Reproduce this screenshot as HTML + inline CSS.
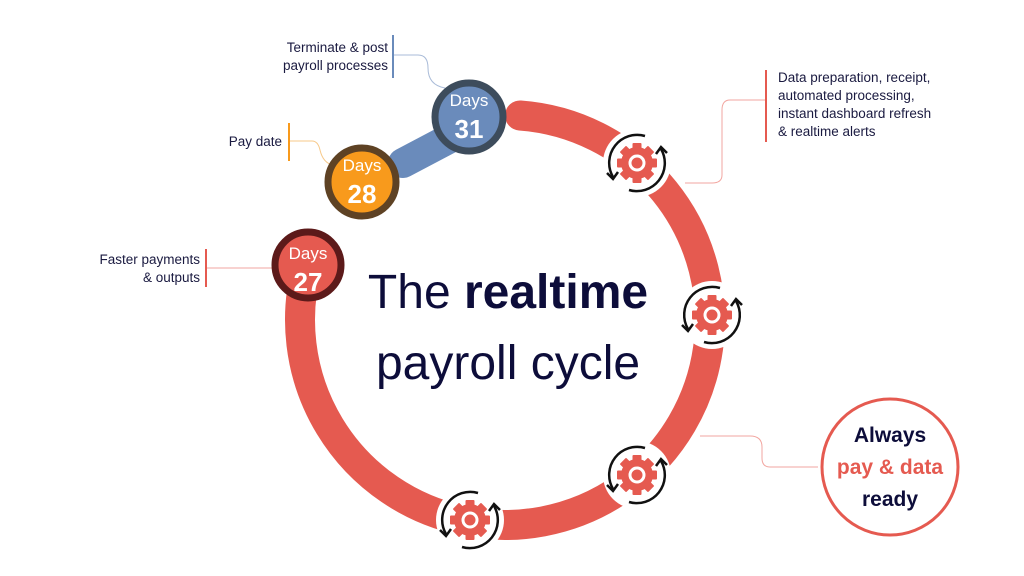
<!DOCTYPE html>
<html><head><meta charset="utf-8"><style>
body{margin:0;width:1024px;height:576px;background:#fff;overflow:hidden}
svg{display:block}
text{font-family:"Liberation Sans",sans-serif}
</style></head><body>
<svg width="1024" height="576" viewBox="0 0 1024 576">
<defs>
<g id="gear">
<circle r="34" fill="#fff"/>
<g fill="#e55a50">
<rect x="-4.5" y="-20" width="9" height="40" rx="1"/>
<rect x="-4.5" y="-20" width="9" height="40" rx="1" transform="rotate(45)"/>
<rect x="-4.5" y="-20" width="9" height="40" rx="1" transform="rotate(90)"/>
<rect x="-4.5" y="-20" width="9" height="40" rx="1" transform="rotate(135)"/>
<circle r="16"/>
</g>
<circle r="7" fill="none" stroke="#fff" stroke-width="3"/>
<path d="M-24,14 A28,28 0 0 1 8,-27" fill="none" stroke="#111" stroke-width="2.5"/>
<path d="M24,-14 A28,28 0 0 1 -8,27" fill="none" stroke="#111" stroke-width="2.5"/>
<path d="M-30,10 L-24,16 L-19,9" fill="none" stroke="#111" stroke-width="2.5"/>
<path d="M30,-10 L24,-16 L19,-9" fill="none" stroke="#111" stroke-width="2.5"/>
</g>
</defs>

<g fill="none" stroke-width="1">
<path d="M393,55 H418 Q428,55 428,68 Q428,85 445,88" stroke="#a9bbd8"/>
<path d="M289,141 H312 Q318,141 320,150 Q323,163 333,165" stroke="#f7c98a"/>
<path d="M205,268 H275" stroke="#f2a6a0"/>
<path d="M766,100 H730 Q722,100 722,110 V175 Q722,183 712,183 H685" stroke="#f2a6a0"/>
<path d="M818,467 H770 Q762,467 762,458 V447 Q762,436 750,436 H700" stroke="#f2a6a0"/>
</g>
<rect x="392" y="35" width="2" height="43" fill="#6a8bbb"/>
<rect x="288" y="123" width="2" height="38" fill="#f89a1c"/>
<rect x="205" y="249" width="2" height="38" fill="#e55a50"/>
<rect x="765" y="70" width="2" height="72" fill="#e55a50"/>

<path d="M520,115.5 A205,205 0 1 1 307.6,264.7" fill="none" stroke="#e55a50" stroke-width="30" stroke-linecap="round"/>
<path d="M403,163 L458,134" fill="none" stroke="#6a8bbb" stroke-width="30" stroke-linecap="round"/>

<use href="#gear" x="637" y="163"/>
<use href="#gear" x="712" y="315"/>
<use href="#gear" x="637" y="475"/>
<use href="#gear" x="470" y="520"/>

<circle cx="469" cy="117" r="34" fill="#6a8bbb" stroke="#3d4c5c" stroke-width="7"/>
<text x="469" y="106" font-size="17" fill="#fff" text-anchor="middle">Days</text>
<text x="469" y="138" font-size="26" font-weight="bold" fill="#fff" text-anchor="middle">31</text>
<circle cx="362" cy="182" r="34" fill="#f89a1c" stroke="#5e4224" stroke-width="7"/>
<text x="362" y="171" font-size="17" fill="#fff" text-anchor="middle">Days</text>
<text x="362" y="203" font-size="26" font-weight="bold" fill="#fff" text-anchor="middle">28</text>
<circle cx="308" cy="265" r="33" fill="#e55a50" stroke="#5c1a1a" stroke-width="7"/>
<text x="308" y="259" font-size="17" fill="#fff" text-anchor="middle">Days</text>
<text x="308" y="291" font-size="26" font-weight="bold" fill="#fff" text-anchor="middle">27</text>

<g font-size="13.5" fill="#1a1a40" text-anchor="end">
<text x="388" y="52">Terminate &amp; post</text>
<text x="388" y="70">payroll processes</text>
<text x="282" y="146">Pay date</text>
<text x="200" y="264">Faster payments</text>
<text x="200" y="282">&amp; outputs</text>
</g>
<g font-size="13.5" fill="#1a1a40">
<text x="778" y="82">Data preparation, receipt,</text>
<text x="778" y="100">automated processing,</text>
<text x="778" y="118">instant dashboard refresh</text>
<text x="778" y="136">&amp; realtime alerts</text>
</g>

<text x="508" y="308" font-size="48" fill="#0d0d3a" text-anchor="middle">The <tspan font-weight="bold">realtime</tspan></text>
<text x="508" y="379" font-size="48" fill="#0d0d3a" text-anchor="middle">payroll cycle</text>

<circle cx="890" cy="467" r="68" fill="#fff" stroke="#e55a50" stroke-width="3"/>
<g font-size="21" font-weight="bold" text-anchor="middle">
<text x="890" y="442" fill="#0d0d3a">Always</text>
<text x="890" y="474" fill="#e55a50">pay &amp; data</text>
<text x="890" y="506" fill="#0d0d3a">ready</text>
</g>
</svg>
</body></html>
